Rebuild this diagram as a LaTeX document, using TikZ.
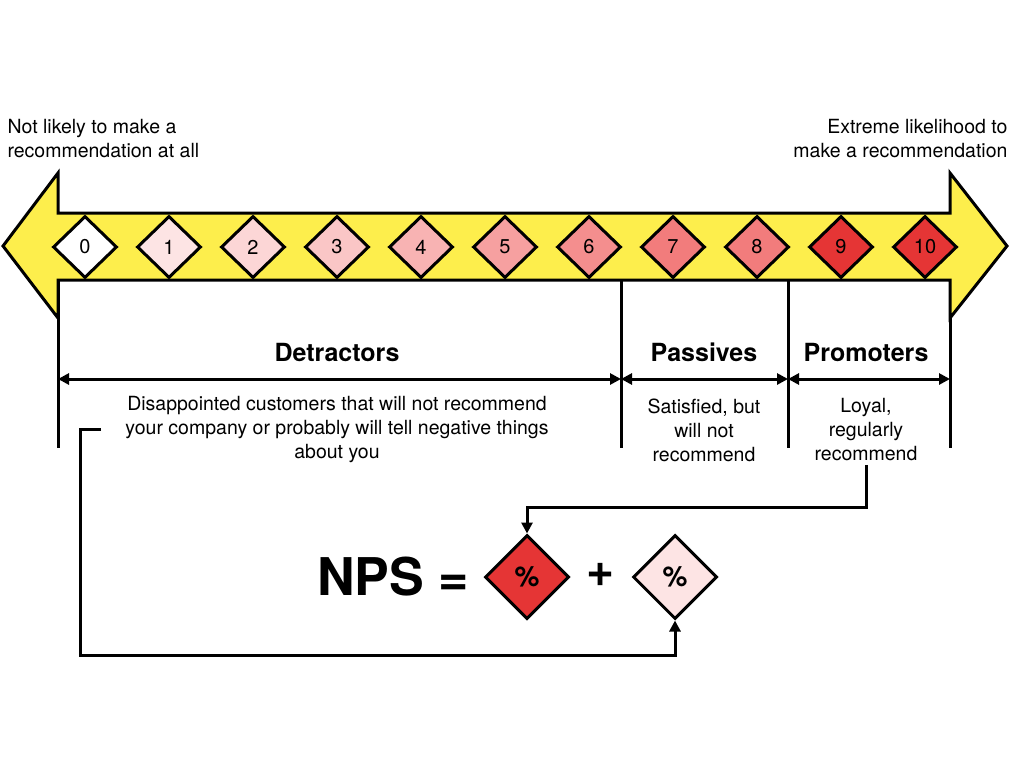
\documentclass[tikz,border=0pt]{standalone}
\usepackage{fontspec}
\setmainfont{TeX Gyre Heros}
\usetikzlibrary{arrows.meta,shapes.geometric,positioning}
\definecolor{npsyellow}{HTML}{FDEE4C}
\definecolor{npsred}{HTML}{E53535}
\definecolor{pinkA}{HTML}{FDE4E4}
\definecolor{pinkB}{HTML}{FCD6D6}
\definecolor{pinkC}{HTML}{FAC6C6}
\definecolor{pinkD}{HTML}{F8B3B3}
\definecolor{pinkE}{HTML}{F6A0A0}
\definecolor{pinkF}{HTML}{F48E8E}
\definecolor{pinkG}{HTML}{F27C7C}

\begin{document}
\begin{tikzpicture}[x=1pt,y=-1pt,line join=miter,
  every node/.style={font=\fontsize{19.5}{24}\selectfont,align=center},
  score/.style={diamond,draw,line width=3pt,inner sep=0pt,
    minimum width=64pt,minimum height=62pt,font=\fontsize{20}{20}\selectfont},
  pct/.style={diamond,draw,line width=3pt,inner sep=0pt,
    minimum width=84pt,minimum height=84pt,font=\bfseries\fontsize{28}{28}\selectfont},
  group/.style={font=\bfseries\fontsize{25}{28}\selectfont},
  bar/.style={line width=3pt},
  span/.style={line width=3pt,{Triangle[length=11pt,width=11pt]}-{Triangle[length=11pt,width=11pt]}},
  link/.style={line width=3pt,-{Triangle[length=11pt,width=11pt]}}]
  \useasboundingbox (0,0) rectangle (1024,768);
  \draw[line width=3pt,fill=npsyellow]
    (58,213) -- (950,213) -- (950,173) -- (1007,246) -- (950,318) -- (950,280)
    -- (58,280) -- (58,318) -- (3,246) -- (58,173) -- cycle;
  \foreach \n/\c [count=\i from 0] in {0/white,1/pinkA,2/pinkB,3/pinkC,4/pinkD,
      5/pinkE,6/pinkF,7/pinkG,8/pinkG,9/npsred,10/npsred}
    \node[score,fill=\c] (s\n) at (85+84*\i,247) {\n};

  \node[anchor=west,align=left] (low) at (4,139) {Not likely to make a\\recommendation at all};
  \node[anchor=east,align=right] (high) at (1011,139) {Extreme likelihood to\\make a recommendation};

  \coordinate (b0) at (58,280);
  \coordinate (b1) at (621,280);
  \coordinate (b2) at (788,280);
  \coordinate (b3) at (950,318);
  \draw[bar] (b0) -- ++(0,168);
  \draw[bar] (b1) -- ++(0,168);
  \draw[bar] (b2) -- ++(0,168);
  \draw[bar] (b3) -- ++(0,130);
  \draw[span] (58,379) -- (621,379);
  \draw[span] (621,379) -- (788,379);
  \draw[span] (788,379) -- (950,379);

  \node[group] (det) at (337,352) {Detractors};
  \node[group] (pas) at (704,352) {Passives};
  \node[group] (pro) at (866,352) {Promoters};
  \node (detdesc) at (337,430) {Disappointed customers that will not recommend\\your company or probably will tell negative things\\about you};
  \node (pasdesc) at (704,430) {Satisfied, but\\will not\\recommend};
  \node (prodesc) at (866,430) {Loyal,\\regularly\\recommend};

  \node[font=\bfseries\fontsize{52}{52}\selectfont] (nps) at (393,577) {NPS =};
  \node[font=\bfseries\fontsize{48}{48}\selectfont] (plus) at (601,575) {+};
  \node[pct,fill=npsred] (pctA) at (527,577) {\%};
  \node[pct,fill=pinkA] (pctB) at (675,577) {\%};

  \coordinate (detout) at (101,429);
  \draw[link] (prodesc.south) |- (pctA.north |- 0,507) -- (pctA.north);
  \draw[link] (detout) -- (80,429) |- (pctB.south |- 0,655) -- (pctB.south);
\end{tikzpicture}
\end{document}
